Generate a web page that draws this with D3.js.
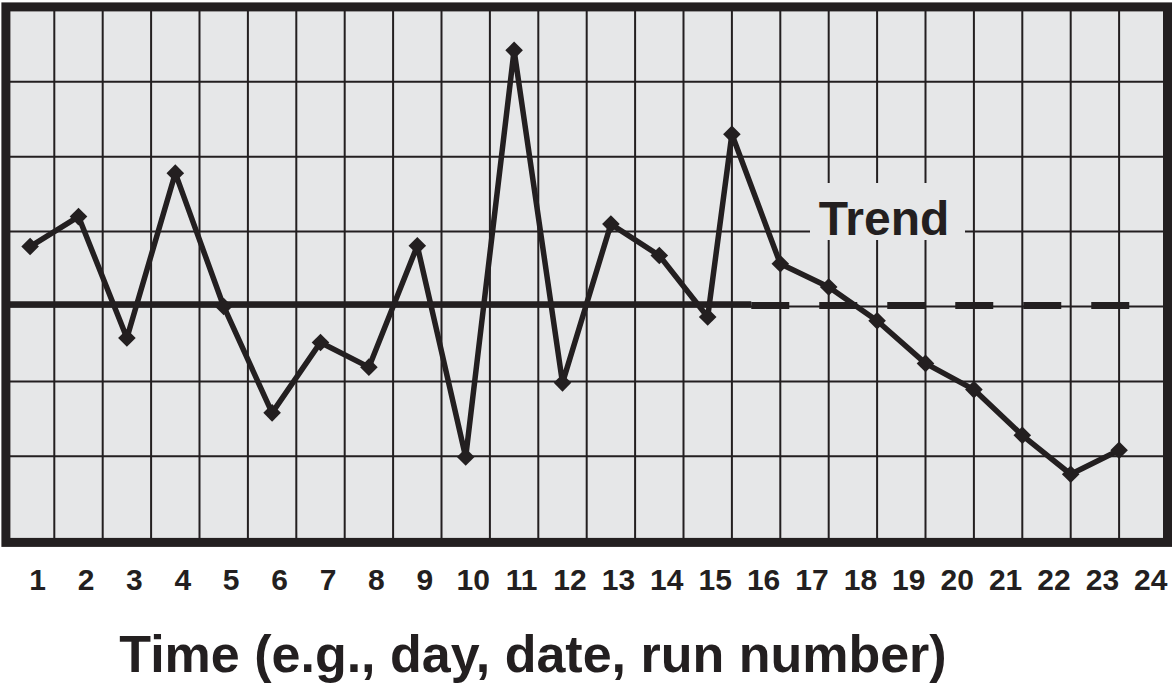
<!DOCTYPE html>
<html>
<head>
<meta charset="utf-8">
<script src="https://cdn.jsdelivr.net/npm/d3@7"></script>
<style>
  body { margin: 0; background: #fff; }
  svg { display: block; font-family: 'Liberation Sans', Arial, sans-serif; }
</style>
</head>
<body>
<svg id="chart" width="1174" height="684"></svg>
<script>
const runs = d3.range(1, 25);
// points 16..24 sit on the grid lines in the original drawing
const timeX = [1, 2, 3, 4, 5, 6, 7, 8, 9, 10, 11, 12, 13, 14, 15,
  15.5, 16.5, 17.5, 18.5, 19.5, 20.5, 21.5, 22.5, 23.5];
const values = [0.80, 1.20, -0.42, 1.78, 0.00, -1.42, -0.48, -0.81, 0.81, -2.01,
  3.42, -1.02, 1.10, 0.68, -0.14, 2.30, 0.57, 0.26, -0.19, -0.76,
  -1.11, -1.72, -2.24, -1.92];
const gridRows = [-2, -1, 0, 1, 2, 3];
const centerValue = 0;
const solidUntil = 15.9;
const dashedUntil = 23.72;
const trendLabel = 'Trend';
const axisTitle = 'Time (e.g., day, date, run number)';

const INK = '#231f20';
const PAPER = '#e6e7e8';

const svg = d3.select('#chart');

const x = d3.scaleLinear().domain([0.5, 24.5]).range([5.9, 1167.5]);
const y = d3.scaleLinear().domain([-3.15, 4.0]).range([542.4, 6.9]);

const [x0, x1] = x.range();
const [y0, y1] = y.range();

svg.append('rect')
  .attr('x', x0).attr('y', y1)
  .attr('width', x1 - x0).attr('height', y0 - y1)
  .attr('fill', PAPER);

const grid = svg.append('g')
  .attr('stroke', INK)
  .attr('stroke-width', 2);

grid.selectAll('.vline')
  .data(d3.range(1.5, 24, 1))
  .join('line')
  .attr('class', 'vline')
  .attr('x1', d => x(d)).attr('x2', d => x(d))
  .attr('y1', y1).attr('y2', y0);

grid.selectAll('.hline')
  .data(gridRows)
  .join('line')
  .attr('class', 'hline')
  .attr('x1', x0).attr('x2', x1)
  .attr('y1', d => y(d)).attr('y2', d => y(d));

// knockout behind the "Trend" label
svg.append('rect')
  .attr('x', 810).attr('y', 183)
  .attr('width', 155).attr('height', 57)
  .attr('fill', PAPER);

svg.append('text')
  .attr('x', 884)
  .attr('y', 235)
  .attr('text-anchor', 'middle')
  .style('font-size', '48px')
  .style('font-weight', 'bold')
  .attr('fill', INK)
  .text(trendLabel);

svg.append('line')
  .attr('x1', x0).attr('x2', x(solidUntil))
  .attr('y1', y(centerValue) - 2).attr('y2', y(centerValue) - 2)
  .attr('stroke', INK)
  .attr('stroke-width', 6.5);

svg.append('line')
  .attr('x1', x(solidUntil)).attr('x2', x(dashedUntil))
  .attr('y1', y(centerValue) - 1).attr('y2', y(centerValue) - 1)
  .attr('stroke', INK)
  .attr('stroke-width', 7)
  .attr('stroke-dasharray', '38,30');

const pts = timeX.map((t, i) => ({ t, v: values[i] }));

const line = d3.line()
  .x(d => x(d.t))
  .y(d => y(d.v));

svg.append('path')
  .datum(pts)
  .attr('d', line)
  .attr('fill', 'none')
  .attr('stroke', INK)
  .attr('stroke-width', 5.5)
  .attr('stroke-linejoin', 'round');

svg.selectAll('.pt')
  .data(pts)
  .join('path')
  .attr('class', 'pt')
  .attr('d', d3.symbol(d3.symbolSquare, 155))
  .attr('transform', d => `translate(${x(d.t)},${y(d.v)}) rotate(45)`)
  .attr('fill', INK);

svg.append('rect')
  .attr('x', x0).attr('y', y1)
  .attr('width', x1 - x0).attr('height', y0 - y1)
  .attr('fill', 'none')
  .attr('stroke', INK)
  .attr('stroke-width', 9);

const axis = d3.axisBottom(x)
  .tickValues(runs)
  .tickFormat(d3.format('d'))
  .tickSize(0)
  .tickPadding(0);

const axisG = svg.append('g')
  .attr('transform', 'translate(7,569)')
  .call(axis);

axisG.select('.domain').remove();
axisG.selectAll('text')
  .attr('dy', '0.71em')
  .style('font-size', '30px')
  .style('font-weight', 'bold')
  .style('font-family', "'Liberation Sans', Arial, sans-serif")
  .attr('fill', INK);

svg.append('text')
  .attr('x', 533)
  .attr('y', 672)
  .attr('text-anchor', 'middle')
  .style('font-size', '52px')
  .style('font-weight', 'bold')
  .attr('fill', INK)
  .text(axisTitle);
</script>
</body>
</html>
